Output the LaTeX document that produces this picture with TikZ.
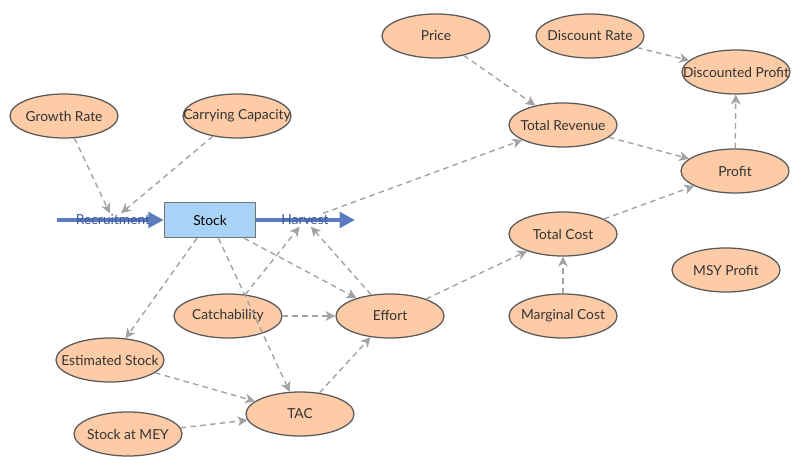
\documentclass[tikz,border=0pt]{standalone}
\usepackage{fontspec}
\setmainfont{Lato}
\usepackage{xcolor}
\usepackage{tikz}
\usetikzlibrary{arrows.meta,shapes.geometric}
\definecolor{auxfill}{HTML}{FDCBA6}
\definecolor{auxline}{HTML}{5A5A5A}
\definecolor{stockfill}{HTML}{A8D3F6}
\definecolor{flowblue}{HTML}{5B7CC0}
\definecolor{ratetext}{HTML}{3B5A9C}
\definecolor{linkgray}{HTML}{A3A3A3}

\begin{document}
\begin{tikzpicture}[
  x=0.025cm,
  y=-0.025cm,
  aux/.style={ellipse, draw=auxline, fill=auxfill, line width=0.9pt, minimum width=2.7cm, minimum height=1.1cm, inner xsep=-0.4cm, inner ysep=0pt, text=black!80},
  stockbox/.style={rectangle, draw=black!55, fill=stockfill, line width=0.9pt, minimum width=2.28cm, minimum height=0.88cm},
  flow/.style={draw=flowblue, line width=2.8pt, -{Triangle[length=11pt,width=11pt]}},
  rate/.style={text=ratetext, inner sep=1pt},
  link/.style={draw=linkgray, line width=1pt, dash pattern=on 4pt off 3pt, -{Stealth[length=7pt,width=7pt,inset=2pt]}},
  every node/.style={font=\fontsize{9.8}{11}\selectfont}
]
\useasboundingbox (0,0) rectangle (800,465);

% stock and flows
\node[stockbox] (stock) at (210,220) {Stock};
\coordinate (rsrc) at (57,220);
\coordinate (hsink) at (355,220);
\draw[flow] (rsrc) -- (stock.west);
\draw[flow] (stock.east) -- (hsink);
\node[rate] (rec) at (113,220) {Recruitment};
\node[rate] (harv) at (305,220) {Harvest};

% variables
\node[aux] (growth) at (64,116) {Growth Rate};
\node[aux] (capacity) at (237,116) {Carrying Capacity};
\node[aux] (price) at (436,36) {Price};
\node[aux] (drate) at (590,36) {Discount Rate};
\node[aux] (dprofit) at (736,72) {Discounted Profit};
\node[aux] (revenue) at (563,125) {Total Revenue};
\node[aux] (profit) at (735,171) {Profit};
\node[aux] (cost) at (563,234) {Total Cost};
\node[aux] (msy) at (726,270) {MSY Profit};
\node[aux] (mcost) at (563,316) {Marginal Cost};
\node[aux] (effort) at (390,316) {Effort};
\node[aux] (catch) at (228,316) {Catchability};
\node[aux] (estock) at (110,360) {Estimated Stock};
\node[aux] (tac) at (300,414) {TAC};
\node[aux] (mey) at (128,434) {Stock at MEY};

% links
\draw[link] (growth) -- (rec);
\draw[link] (capacity) -- (rec);
\draw[link] (price) -- (revenue);
\draw[link] (drate) -- (dprofit);
\draw[link] (profit) -- (dprofit);
\draw[link] (revenue) -- (profit);
\draw[link] (cost) -- (profit);
\draw[link] (mcost) -- (cost);
\draw[link] (effort) -- (cost);
\draw[link] (harv) -- (revenue);
\draw[link] (stock) -- (effort);
\draw[link] (stock) -- (estock);
\draw[link] (stock) -- (tac);
\draw[link] (catch) -- (harv);
\draw[link] (effort) -- (harv);
\draw[link] (catch) -- (effort);
\draw[link] (tac) -- (effort);
\draw[link] (estock) -- (tac);
\draw[link] (mey) -- (tac);
\end{tikzpicture}
\end{document}
